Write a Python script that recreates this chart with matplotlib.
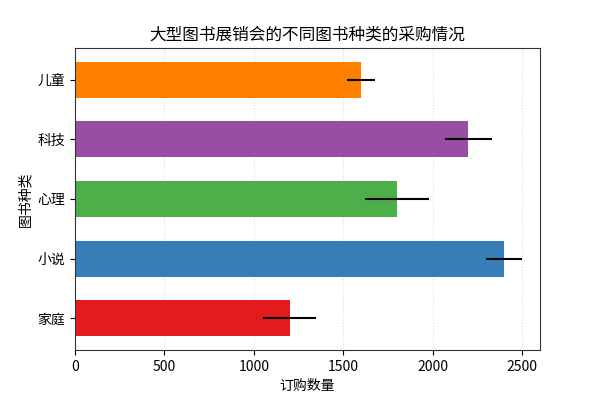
import matplotlib.pyplot as plt

plt.rcParams['font.family'] = ['Noto Sans CJK SC', 'DejaVu Sans']
plt.rcParams['axes.unicode_minus'] = False

categories = ['家庭', '小说', '心理', '科技', '儿童']
orders = [1200, 2400, 1800, 2200, 1600]
errors = [150, 100, 180, 130, 80]
colors = ['#e41a1c', '#377eb8', '#4daf4a', '#984ea3', '#ff7f00']

fig, ax = plt.subplots(figsize=(6, 4), dpi=100)
fig.subplots_adjust(left=0.125, right=0.9, top=0.88, bottom=0.125)

ax.barh(categories, orders, xerr=errors, height=0.6, color=colors,
        error_kw=dict(ecolor='black', elinewidth=1.5, capsize=0), zorder=2)
ax.grid(axis='x', linestyle=':', color='#dddddd', linewidth=0.8, zorder=0)
ax.set_axisbelow(True)
ax.set_xlim(0, 2600)

ax.set_title('大型图书展销会的不同图书种类的采购情况', fontsize=12)
ax.set_xlabel('订购数量', fontsize=10)
ax.set_ylabel('图书种类', fontsize=10)
for s in ax.spines.values():
    s.set_color('#333333')

fig.savefig('out.png')
